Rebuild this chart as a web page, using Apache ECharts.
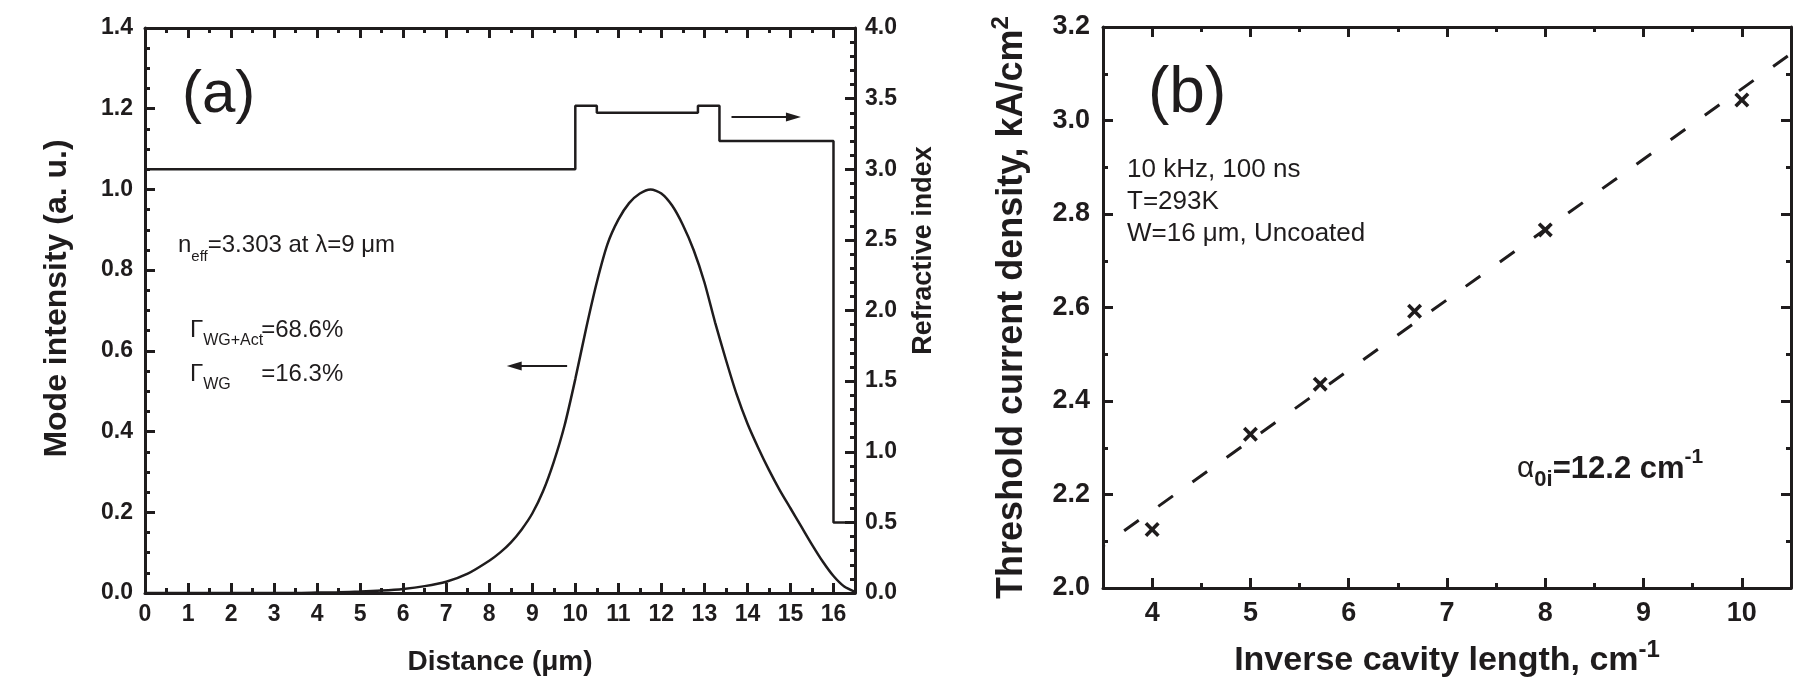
<!DOCTYPE html>
<html>
<head>
<meta charset="utf-8">
<script src="https://cdn.jsdelivr.net/npm/echarts@6/dist/echarts.min.js"></script>
<style>
  html, body { margin: 0; background: #fff; }
  #chart { width: 1814px; height: 700px; }
</style>
</head>
<body>
<div id="chart"></div>
<script>
// (a) mode profile
const distance = [0, 0.5, 1, 1.5, 2, 2.5, 3, 3.5, 4, 4.5, 5, 5.5, 6, 6.5, 7, 7.5, 8,
  8.25, 8.5, 8.75, 9, 9.25, 9.5, 9.75, 10, 10.25, 10.5, 10.75, 11, 11.25, 11.5, 11.75, 12,
  12.25, 12.5, 12.75, 13, 13.25, 13.5, 13.75, 14, 14.25, 14.5, 14.75, 15, 15.25, 15.5, 15.75, 16,
  16.25, 16.5];
const intensity = [0, 0, 0, 0, 0, 0, 0, 0, 0.001, 0.002, 0.0035, 0.006, 0.010, 0.017, 0.028, 0.048, 0.080,
  0.100, 0.125, 0.157, 0.197, 0.252, 0.325, 0.415, 0.530, 0.655, 0.770, 0.865, 0.925, 0.966, 0.990, 1.000, 0.990,
  0.960, 0.912, 0.850, 0.770, 0.670, 0.578, 0.492, 0.420, 0.360, 0.305, 0.255, 0.210, 0.165, 0.120, 0.078, 0.042,
  0.016, 0.003];
// refractive index steps (value holds until next x)
const stepX = [0, 10, 10.5, 12.85, 13.35, 16, 16.5];
const refIndex = [3.0, 3.45, 3.40, 3.45, 3.2, 0.5, 0.5];
const distTicks = [0, 1, 2, 3, 4, 5, 6, 7, 8, 9, 10, 11, 12, 13, 14, 15, 16];
const arrowRight = [[13.63, 3.37], [15.07, 3.37]];
const arrowLeft = [[9.81, 0.5625], [8.58, 0.5625]];

// (b) threshold vs inverse length
const invLength = [4, 5, 5.71, 6.67, 8, 10];
const jth = [2.125, 2.329, 2.436, 2.592, 2.766, 3.044];
const fitX = [3.5, 10.5];
const fitY = [2.09, 3.143];
const invTicks = [4, 5, 6, 7, 8, 9, 10];

const INK = '#1f1c1d';
const FONT = '"Liberation Sans", Arial, sans-serif';

const chart = echarts.init(document.getElementById('chart'));

function frameAxis(gridIndex, position, min, max, opt) {
  opt = opt || {};
  const ax = {
    type: 'value', gridIndex, position, min, max,
    axisLine: { show: opt.line !== false, onZero: false, lineStyle: { color: INK, width: 3 } },
    axisTick: { show: true, inside: true, length: opt.tickLen || 10, lineStyle: { color: INK, width: 3 } },
    axisLabel: {
      show: !!opt.labels, color: INK, fontFamily: FONT, fontWeight: 'bold',
      fontSize: opt.fontSize || 23, margin: opt.margin || 10
    },
    splitLine: { show: false }
  };
  if (opt.interval != null) ax.interval = opt.interval;
  if (opt.ticks) {
    ax.axisTick.customValues = opt.ticks;
    ax.axisLabel.customValues = opt.ticks;
  }
  if (opt.minor) {
    ax.minorTick = { show: true, splitNumber: opt.minor, length: 5, lineStyle: { color: INK, width: 3 } };
  }
  if (opt.fmt) ax.axisLabel.formatter = opt.fmt;
  if (opt.name) {
    ax.name = opt.name;
    ax.nameLocation = 'middle';
    ax.nameGap = opt.nameGap;
    if (opt.nameRotate != null) ax.nameRotate = opt.nameRotate;
    ax.nameTextStyle = Object.assign({
      color: INK, fontFamily: FONT, fontWeight: 'bold', fontSize: opt.nameSize
    }, opt.nameStyle || {});
  }
  return ax;
}

const oneDec = (v) => v.toFixed(1);
const titleRich = (size) => ({
  t: { fontFamily: FONT, fontWeight: 'bold', fontSize: size, color: INK },
  p: { fontFamily: FONT, fontWeight: 'bold', fontSize: 24, color: INK, padding: [0, 0, 22, 0] }
});

const xSymbol = 'path://M0,1.7L1.7,0L5,3.3L8.3,0L10,1.7L6.7,5L10,8.3L8.3,10L5,6.7L1.7,10L0,8.3L3.3,5Z';

function arrowLine(pts) {
  return {
    silent: true,
    symbol: ['none', 'triangle'],
    symbolSize: [9, 15],
    label: { show: false },
    lineStyle: { color: INK, width: 2, type: 'solid' },
    emphasis: { disabled: true },
    data: [[{ coord: pts[0] }, { coord: pts[1] }]]
  };
}

function txt(x, y, text, rich, base) {
  return {
    type: 'text', x, y, silent: true,
    style: Object.assign({
      text, rich, fill: INK, fontFamily: FONT, fontSize: 24,
      align: 'left', verticalAlign: 'middle'
    }, base || {})
  };
}

const regular = (size) => ({ fontFamily: FONT, fontSize: size, color: INK });
const subA = { fontFamily: FONT, fontSize: 16, color: INK, padding: [22, 0, 0, 0], width: 58 };

chart.setOption({
  animation: false,
  backgroundColor: '#fff',
  grid: [
    { left: 145, top: 28, width: 710, height: 565 },
    { left: 145, top: 28, width: 710, height: 565 },
    { left: 1103, top: 27, width: 688, height: 561 },
    { left: 1103, top: 27, width: 688, height: 561 }
  ],
  xAxis: [
    frameAxis(0, 'bottom', 0, 16.5, {
      ticks: distTicks, labels: true, margin: 10,
      name: 'Distance (μm)', nameGap: 55, nameSize: 28
    }),
    frameAxis(0, 'top', 0, 16.5, { ticks: distTicks }),
    frameAxis(1, 'bottom', 0, 16.5, { interval: 0.5, line: false, tickLen: 5 }),
    frameAxis(1, 'top', 0, 16.5, { interval: 0.5, line: false, tickLen: 5 }),
    frameAxis(2, 'bottom', 3.5, 10.5, {
      ticks: invTicks, labels: true, fontSize: 27, margin: 12,
      name: '{t|Inverse cavity length, cm}{p|-1}', nameGap: 50, nameSize: 34,
      nameStyle: { rich: titleRich(34) }
    }),
    frameAxis(2, 'top', 3.5, 10.5, { ticks: invTicks }),
    frameAxis(3, 'bottom', 3.5, 10.5, { interval: 0.5, line: false, tickLen: 5 }),
    frameAxis(3, 'top', 3.5, 10.5, { interval: 0.5, line: false, tickLen: 5 })
  ],
  yAxis: [
    frameAxis(0, 'left', 0, 1.4, {
      interval: 0.2, minor: 4, labels: true, margin: 12, fmt: oneDec,
      name: 'Mode intensity (a. u.)', nameGap: 72, nameSize: 32, nameRotate: 90,
      nameStyle: { padding: [0, 0, 0, 24] }
    }),
    frameAxis(0, 'right', 0, 4, {
      interval: 0.5, minor: 5, labels: true, margin: 10, fmt: oneDec,
      name: 'Refractive index', nameGap: 55, nameSize: 27, nameRotate: 90,
      nameStyle: { padding: [0, 0, 0, 120] }
    }),
    { type: 'value', gridIndex: 1, show: false, min: 0, max: 1 },
    frameAxis(2, 'left', 2.0, 3.2, {
      interval: 0.2, minor: 2, labels: true, fontSize: 27, margin: 13, fmt: oneDec,
      name: '{t|Threshold current density, kA/cm}{p|2}', nameGap: 68, nameSize: 36, nameRotate: 90,
      nameStyle: { rich: titleRich(36) }
    }),
    frameAxis(2, 'right', 2.0, 3.2, { interval: 0.2, minor: 2 }),
    { type: 'value', gridIndex: 3, show: false, min: 0, max: 1 }
  ],
  series: [
    {
      name: 'Mode intensity',
      type: 'line',
      xAxisIndex: 0, yAxisIndex: 0,
      data: distance.map((d, i) => [d, intensity[i]]),
      showSymbol: false, smooth: 0.25,
      lineStyle: { color: INK, width: 2.5 },
      markLine: arrowLine(arrowLeft),
      z: 3
    },
    {
      name: 'Refractive index',
      type: 'line',
      xAxisIndex: 0, yAxisIndex: 1,
      step: 'end',
      data: stepX.map((d, i) => [d, refIndex[i]]),
      showSymbol: false,
      lineStyle: { color: INK, width: 2.5 },
      markLine: arrowLine(arrowRight),
      z: 3
    },
    {
      name: 'Fit',
      type: 'line',
      xAxisIndex: 4, yAxisIndex: 3,
      data: fitX.map((d, i) => [d, fitY[i]]),
      showSymbol: false,
      lineStyle: { color: INK, width: 3, type: [18, 24], dashOffset: 16 },
      z: 3
    },
    {
      name: 'Jth',
      type: 'scatter',
      xAxisIndex: 4, yAxisIndex: 3,
      data: invLength.map((d, i) => [d, jth[i]]),
      symbol: xSymbol, symbolSize: 15,
      itemStyle: { color: INK, opacity: 1 },
      z: 4
    }
  ],
  graphic: [
    txt(182, 95, '(a)', null, { fontSize: 60 }),
    txt(1148, 94, '(b)', null, { fontSize: 64 }),
    txt(178, 245, '{m|n}{s|eff}{m|=3.303 at λ=9 μm}', {
      m: regular(24),
      s: { fontFamily: FONT, fontSize: 15, color: INK, padding: [24, 0, 0, 0] }
    }),
    txt(190, 330, '{m|Γ}{s|WG+Act}{m|=68.6%}', { m: regular(24), s: subA }),
    txt(190, 374, '{m|Γ}{s|WG}{m|=16.3%}', { m: regular(24), s: subA }),
    txt(1127, 170, '10 kHz, 100 ns', null, { fontSize: 26 }),
    txt(1127, 202, 'T=293K', null, { fontSize: 26 }),
    txt(1127, 234, 'W=16 μm, Uncoated', null, { fontSize: 26 }),
    txt(1517, 469, '{a|α}{s|0i}{m|=12.2 cm}{p|-1}', {
      a: { fontFamily: FONT, fontSize: 30, color: INK },
      s: { fontFamily: FONT, fontSize: 22, fontWeight: 'bold', color: INK, padding: [22, 0, 0, 0] },
      m: { fontFamily: FONT, fontSize: 31, fontWeight: 'bold', color: INK },
      p: { fontFamily: FONT, fontSize: 21, fontWeight: 'bold', color: INK, padding: [0, 0, 24, 0] }
    })
  ]
});

window.addEventListener('resize', () => chart.resize());
</script>
</body>
</html>
